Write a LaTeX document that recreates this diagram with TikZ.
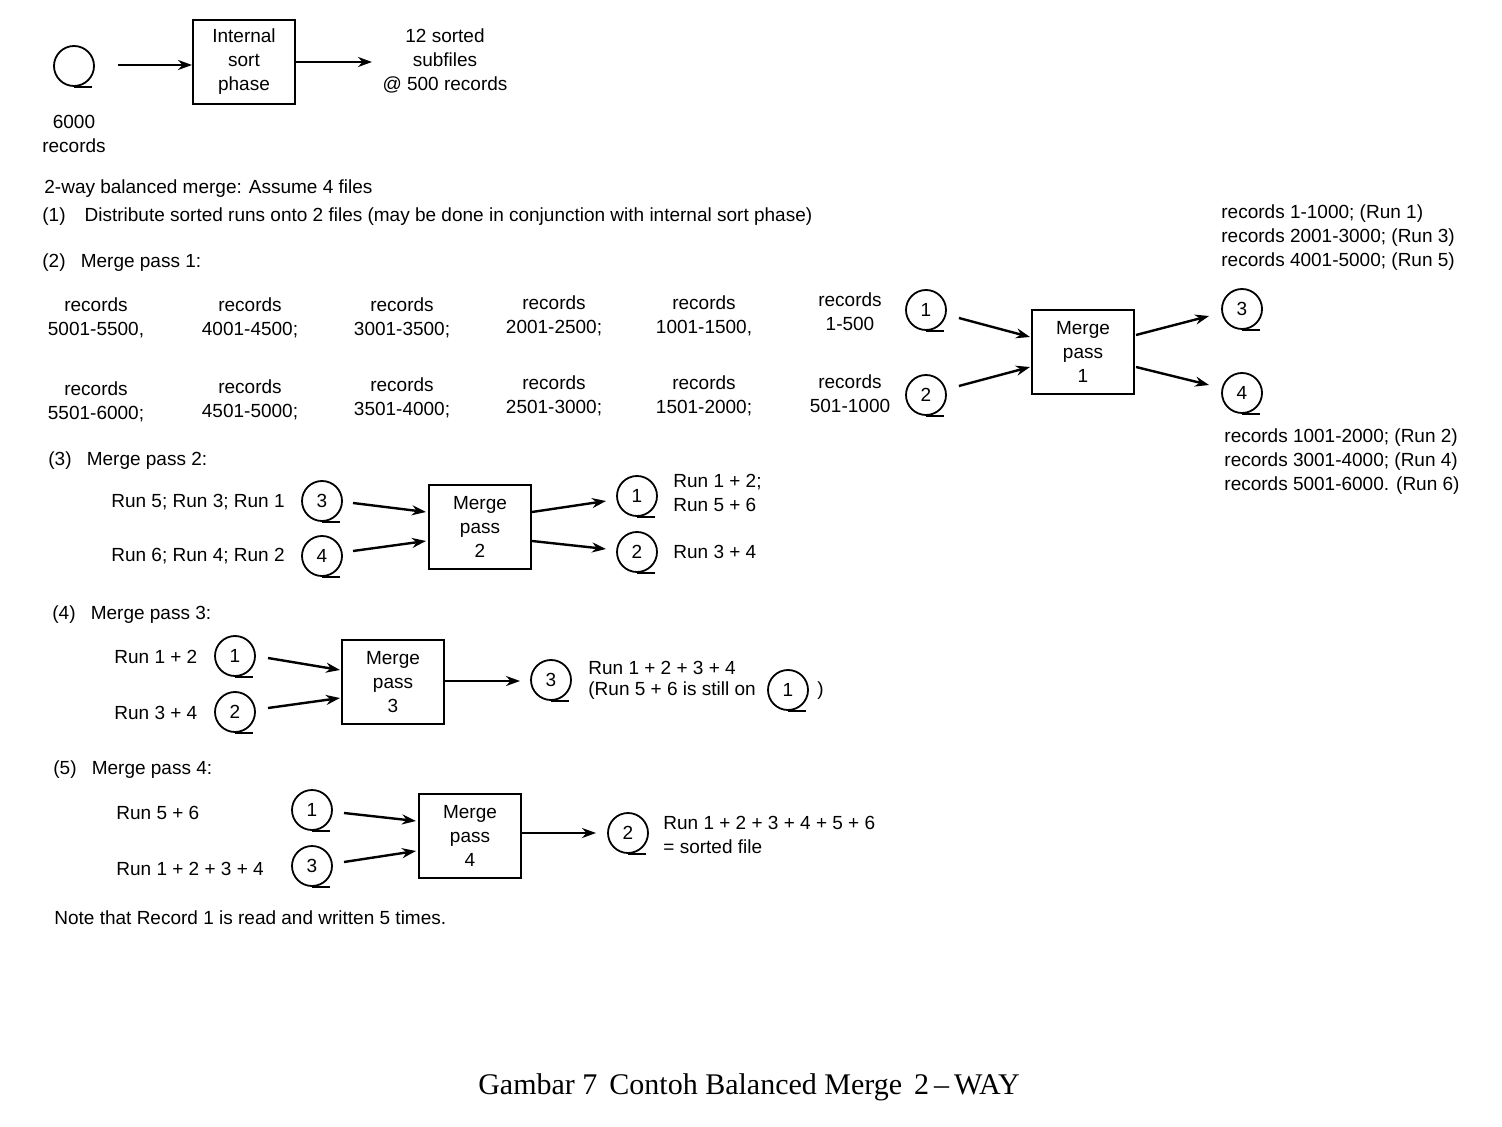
\documentclass[tikz,border=0pt]{standalone}
\usepackage{fontspec}
\setmainfont{Liberation Sans}
\newfontfamily\capfont{Liberation Serif}
\usetikzlibrary{arrows.meta,calc}
\begin{document}
\begin{tikzpicture}[x=0.5pt,y=-0.5pt,
  every node/.style={font=\fontsize{9.5}{12}\selectfont, inner sep=0pt, align=center},
  tape/.style={circle, draw, line width=0.9pt, minimum size=20pt},
  box/.style={draw, line width=1pt, minimum width=51pt, minimum height=42pt, align=center},
  arr/.style={-{Stealth[length=7pt,width=5pt]}, line width=1.2pt},
  lt/.style={anchor=west, align=left}]
\useasboundingbox (0,0) rectangle (1502,1127);
\newcommand{\tp}[3]{\node[tape] (#1) at #2 {#3};
  \draw[line width=0.9pt] (#1.-90) -- ++(18,0);}
% top
\tp{t0}{(74,66)}{}
\node (n6000) at (74,134) {6000\\records};
\node[box] (isp) at (244,62) {Internal\\sort\\phase};
\coordinate (a0) at (118,65);
\draw[arr] (a0) -- (isp.west |- a0);
\node (sub) at (445,61) {12 sorted\\subfiles\\@ 500 records};
\draw[arr] (isp.east) -- (372,62);
\node[lt] (h0) at (44,189) {2-way balanced merge: Assume 4 files};
\node[lt] (h1) at (42,217) {(1)\hspace{1em}Distribute sorted runs onto 2 files (may be done in conjunction with internal sort phase)};
\node[lt] (h2) at (42,263) {(2)\hspace{0.8em}Merge pass 1:};
% records
\node (r11) at (96,318) {records\\5001-5500,};
\node (r12) at (250,318) {records\\4001-4500;};
\node (r13) at (402,318) {records\\3001-3500;};
\node (r14) at (554,316) {records\\2001-2500;};
\node (r15) at (704,316) {records\\1001-1500,};
\node (r16) at (850,312) {records\\1-500};
\node (r21) at (96,402) {records\\5501-6000;};
\node (r22) at (250,400) {records\\4501-5000;};
\node (r23) at (402,398) {records\\3501-4000;};
\node (r24) at (554,396) {records\\2501-3000;};
\node (r25) at (704,396) {records\\1501-2000;};
\node (r26) at (850,394) {records\\501-1000};
% pass 1
\tp{p1a}{(926,310)}{1}
\tp{p1b}{(926,395)}{2}
\node[box] (m1) at (1083,352) {Merge\\pass\\1};
\tp{p1c}{(1242,309)}{3}
\tp{p1d}{(1242,393)}{4}
\draw[arr] ($(p1a.east)+(12,8)$) -- (1030,337);
\draw[arr] ($(p1b.east)+(12,-9)$) -- (1030,367);
\draw[arr] (1136,335) -- ($(p1c.west)+(-12,7)$);
\draw[arr] (1136,367) -- ($(p1d.west)+(-12,-8)$);
\node[lt] (rt) at (1221,238) {records 1-1000; (Run 1)\\records 2001-3000; (Run 3)\\records 4001-5000; (Run 5)};
\node[lt] (rb) at (1224,462) {records 1001-2000; (Run 2)\\records 3001-4000; (Run 4)\\records 5001-6000. (Run 6)};
% pass 2
\node[lt] (h3) at (48,461) {(3)\hspace{0.8em}Merge pass 2:};
\node[anchor=east] (l2a) at (285,502) {Run 5; Run 3; Run 1};
\node[anchor=east] (l2b) at (285,556) {Run 6; Run 4; Run 2};
\tp{p2a}{(322,501)}{3}
\tp{p2b}{(322,556)}{4}
\node[box] (m2) at (480,527) {Merge\\pass\\2};
\tp{p2c}{(637,496)}{1}
\tp{p2d}{(637,552)}{2}
\draw[arr] (353,503) -- (426,512);
\draw[arr] (353,551) -- (426,541);
\draw[arr] (532,512) -- (606,501);
\draw[arr] (532,541) -- (606,549);
\node[lt] (o2a) at (673,493) {Run 1 + 2;\\Run 5 + 6};
\node[lt] (o2b) at (673,552) {Run 3 + 4};
% pass 3
\node[lt] (h4) at (52,615) {(4)\hspace{0.8em}Merge pass 3:};
\node[lt] (l3a) at (114,657) {Run 1 + 2};
\node[lt] (l3b) at (114,713) {Run 3 + 4};
\tp{p3a}{(235,656)}{1}
\tp{p3b}{(235,712)}{2}
\node[box] (m3) at (393,682) {Merge\\pass\\3};
\tp{p3c}{(551,680)}{3}
\draw[arr] (268,658) -- (340,670);
\draw[arr] (268,708) -- (340,698);
\draw[arr] (444,681) -- (520,681);
\node[lt] (o3a) at (588,668) {Run 1 + 2 + 3 + 4};
\node[lt] (o3b) at (588,691) {(Run 5 + 6 is still on};
\tp{p3d}{(788,690)}{1}
\node[lt] (o3c) at (817,691) {)};
% pass 4
\node[lt] (h5) at (53,770) {(5)\hspace{0.8em}Merge pass 4:};
\node[lt] (l4a) at (116,813) {Run 5 + 6};
\node[lt] (l4b) at (116,869) {Run 1 + 2 + 3 + 4};
\tp{p4a}{(312,810)}{1}
\tp{p4b}{(312,866)}{3}
\node[box] (m4) at (470,836) {Merge\\pass\\4};
\tp{p4c}{(628,833)}{2}
\draw[arr] (344,813) -- (416,821);
\draw[arr] (344,862) -- (416,851);
\draw[arr] (521,833) -- (596,833);
\node[lt] (o4) at (663,835) {Run 1 + 2 + 3 + 4 + 5 + 6\\= sorted file};
\node[lt] (note) at (54,918) {Note that Record 1 is read and written 5 times.};
\node (cap) at (749,1087) {\capfont\fontsize{15}{18}\selectfont Gambar 7\hspace{0.4em}Contoh Balanced Merge\hspace{0.4em}2\,\textendash\,WAY};
\end{tikzpicture}
\end{document}
